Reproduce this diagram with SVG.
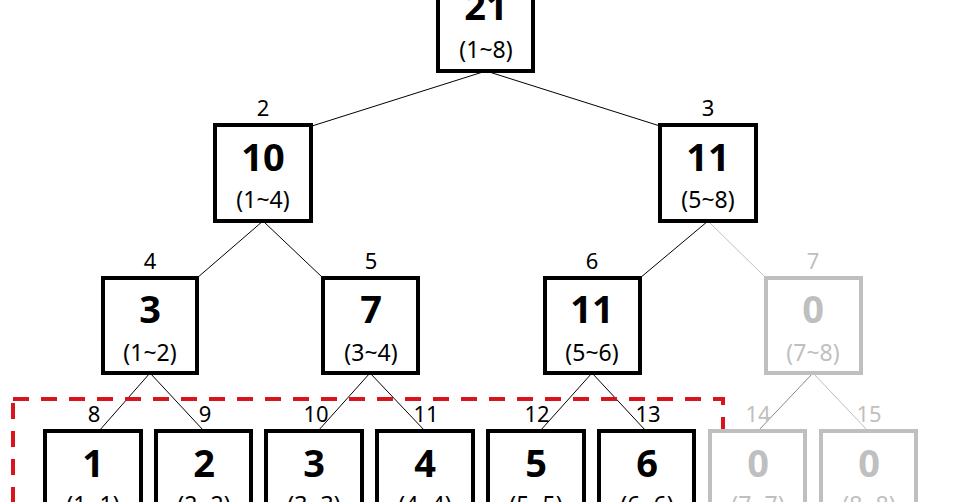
<svg xmlns="http://www.w3.org/2000/svg" width="955" height="502" viewBox="0 0 955 502">
<style>
.b{fill:#fff;stroke:#000;stroke-width:4}
.g .b{stroke:#bfbfbf}
.n{font-family:"Noto Sans","Open Sans",sans-serif;font-weight:bold;font-size:38px;text-anchor:middle}
.r{font-family:"Noto Sans","Open Sans",sans-serif;font-size:23px;text-anchor:middle}
.g text{fill:#bfbfbf}
.i{font-family:"Noto Sans","Open Sans",sans-serif;font-size:22px;text-anchor:middle}
line{stroke:#000;stroke-width:1}
</style>
<g id="connectors">
<line x1="486" y1="71" x2="312" y2="126"/>
<line x1="486" y1="71" x2="660" y2="126"/>
<line x1="263" y1="221" x2="197" y2="278"/>
<line x1="263" y1="221" x2="323" y2="278"/>
<line x1="708" y1="221" x2="640" y2="278"/>
<line x1="708" y1="221" x2="766" y2="278" style="stroke:#bfbfbf"/>
<line x1="150" y1="373" x2="99" y2="431"/>
<line x1="150" y1="373" x2="204" y2="431"/>
<line x1="370" y1="373" x2="318" y2="431"/>
<line x1="370" y1="373" x2="425" y2="431"/>
<line x1="592" y1="373" x2="540" y2="431"/>
<line x1="592" y1="373" x2="646" y2="431"/>
<line x1="813" y1="373" x2="758" y2="431" style="stroke:#888"/>
<line x1="813" y1="373" x2="868" y2="431" style="stroke:#bfbfbf"/>
</g>
<rect x="13" y="399" width="710" height="140" fill="none" stroke="#d9141c" stroke-width="4" stroke-dasharray="16,12"/>
<g id="n1"><rect class="b" x="438" y="-25" width="95" height="96"/><text class="n" x="486" y="20">21</text><text class="r" x="486" y="58">(1~8)</text></g>
<g id="n2"><text class="i" x="263" y="116">2</text><rect class="b" x="215" y="125" width="96" height="96"/><text class="n" x="263" y="171">10</text><text class="r" x="263" y="208">(1~4)</text></g>
<g id="n3"><text class="i" x="708" y="116">3</text><rect class="b" x="660" y="125" width="96" height="96"/><text class="n" x="708" y="171">11</text><text class="r" x="708" y="208">(5~8)</text></g>
<g id="n4"><text class="i" x="150" y="269">4</text><rect class="b" x="103" y="278" width="94" height="95"/><text class="n" x="150" y="323">3</text><text class="r" x="150" y="361">(1~2)</text></g>
<g id="n5"><text class="i" x="371" y="269">5</text><rect class="b" x="323" y="278" width="95" height="95"/><text class="n" x="371" y="323">7</text><text class="r" x="371" y="361">(3~4)</text></g>
<g id="n6"><text class="i" x="592" y="269">6</text><rect class="b" x="545" y="278" width="95" height="95"/><text class="n" x="592" y="323">11</text><text class="r" x="592" y="361">(5~6)</text></g>
<g id="n7" class="g"><text class="i" x="813" y="269">7</text><rect class="b" x="766" y="278" width="95" height="95"/><text class="n" x="813" y="323">0</text><text class="r" x="813" y="361">(7~8)</text></g>
<g id="n8"><text class="i" x="94" y="422">8</text><rect class="b" x="45" y="431" width="96" height="96"/><text class="n" x="93" y="477">1</text><text class="r" x="93" y="513">(1~1)</text></g>
<g id="n9"><text class="i" x="205" y="422">9</text><rect class="b" x="156" y="431" width="95" height="96"/><text class="n" x="204" y="477">2</text><text class="r" x="204" y="513">(2~2)</text></g>
<g id="n10"><text class="i" x="316" y="422">10</text><rect class="b" x="266" y="431" width="96" height="96"/><text class="n" x="314" y="477">3</text><text class="r" x="314" y="513">(3~3)</text></g>
<g id="n11"><text class="i" x="426" y="422">11</text><rect class="b" x="377" y="431" width="96" height="96"/><text class="n" x="425" y="477">4</text><text class="r" x="425" y="513">(4~4)</text></g>
<g id="n12"><text class="i" x="537" y="422">12</text><rect class="b" x="488" y="431" width="96" height="96"/><text class="n" x="536" y="477">5</text><text class="r" x="536" y="513">(5~5)</text></g>
<g id="n13"><text class="i" x="648" y="422">13</text><rect class="b" x="599" y="431" width="95" height="96"/><text class="n" x="647" y="477">6</text><text class="r" x="647" y="513">(6~6)</text></g>
<g id="n14" class="g"><text class="i" x="758" y="422">14</text><rect class="b" x="710" y="431" width="95" height="96"/><text class="n" x="758" y="477">0</text><text class="r" x="758" y="513">(7~7)</text></g>
<g id="n15" class="g"><text class="i" x="869" y="422">15</text><rect class="b" x="821" y="431" width="95" height="96"/><text class="n" x="869" y="477">0</text><text class="r" x="869" y="513">(8~8)</text></g>
</svg>
